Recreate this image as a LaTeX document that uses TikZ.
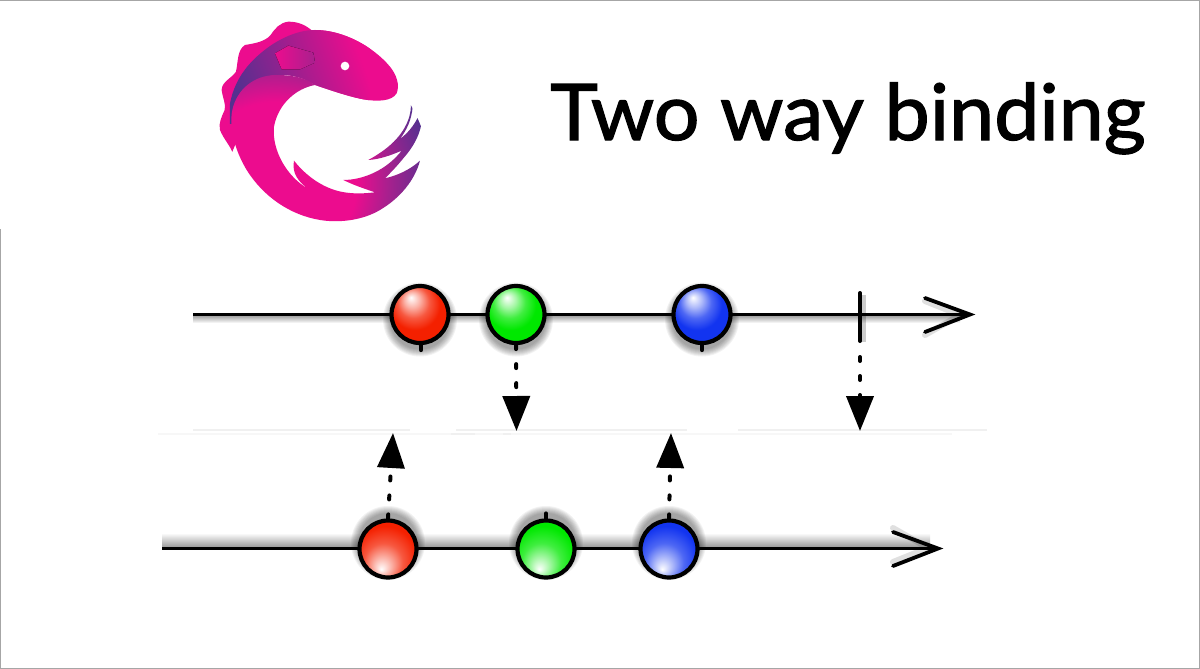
\documentclass[tikz,border=0pt]{standalone}
\usepackage{fontspec}
\setmainfont{Lato}[FakeStretch=1.035,FakeBold=1.6]
\usetikzlibrary{arrows.meta}
\definecolor{pk}{HTML}{EC0C8E}
\definecolor{pm}{HTML}{A8208E}
\definecolor{pu}{HTML}{55308F}
\definecolor{hl}{HTML}{FFFFFF}
\definecolor{rM}{HTML}{F42000}\colorlet{rD}{red!60!black}
\definecolor{gM}{HTML}{00E800}\colorlet{gD}{gM!60!black}
\definecolor{bM}{HTML}{1234F0}\colorlet{bD}{bM!60!black}
\pgfdeclareradialshading{bodyshade}{\pgfpoint{0bp}{0bp}}{color(0bp)=(pk);color(13bp)=(pk);color(18bp)=(pm);color(25bp)=(pu);color(50bp)=(pu)}
\newcommand{\mkballT}[3]{%
\pgfdeclareradialshading{#1}{\pgfpoint{-8bp}{15bp}}{color(0bp)=(hl);color(7bp)=(#2!35!white);color(14bp)=(#2!75!white);color(22bp)=(#2);color(29bp)=(#2);color(38bp)=(#3);color(50bp)=(#3)}}
\newcommand{\mkballB}[3]{%
\pgfdeclareradialshading{#1}{\pgfpoint{-6bp}{-18bp}}{color(0bp)=(hl);color(8bp)=(#2!35!white);color(17bp)=(#2!75!white);color(28bp)=(#2);color(37bp)=(#2);color(46bp)=(#3);color(50bp)=(#3)}}
\mkballT{rT}{rM}{rD}\mkballT{gT}{gM}{gD}\mkballT{bT}{bM}{bD}
\mkballB{rB}{rM}{rD}\mkballB{gB}{gM}{gD}\mkballB{bB}{bM}{bD}
\tikzset{
  x=1pt,y=-1pt,
  tl/.style={line width=3.8pt,black},
  ball/.style={circle,minimum size=57pt,inner sep=0pt,line width=4.2pt,draw=black},
  dotarrow/.style={line width=4pt,line cap=round,dash pattern=on 4pt off 15pt,-{Triangle[length=35pt,width=27pt]}},
  tick/.style={line width=4pt,line cap=round},
  faint/.style={line width=1.6pt,black!6},
  fainter/.style={line width=1.6pt,black!3},
  edge/.style={line width=2pt,black!35},
  barbshadow/.style={line width=6pt,black,opacity=.12,line cap=round},
}
\newcommand{\ballshadow}[3]{\foreach \r in {30,31,32,33,34,35,36,37}{\fill[black,opacity=.05] (#1,#2+#3) circle (\r);}}
\begin{document}
\begin{tikzpicture}
\useasboundingbox (0,0) rectangle (1200,669);
\fill[white] (0,0) rectangle (1200,669);
\draw[edge] (0,669) -- (1200,669) -- (1200,0) -- (0,0);
\draw[edge] (0,229) -- (0,669);
% logo
\begin{scope}[shift={(200,10)},x=0.3333pt,y=-0.3333pt]
\fill[pk] (345,70) .. controls (320,45) and (295,35) .. (265,35) .. controls (240,38) and (225,55) .. (212,75)
 .. controls (195,95) and (165,100) .. (135,105) .. controls (112,120) and (115,150) .. (108,185)
 .. controls (95,205) and (65,215) .. (65,240) .. controls (68,265) and (78,280) .. (74,300)
 .. controls (65,320) and (55,340) .. (60,360) .. controls (70,385) and (85,400) .. (97,425) -- (150,300) -- cycle;
\begin{scope}
\clip (97,425) .. controls (70,310) and (90,220) .. (160,150) .. controls (220,90) and (290,60) .. (345,60)
 .. controls (430,60) and (520,110) .. (570,170) .. controls (590,195) and (600,225) .. (590,250)
 .. controls (575,275) and (530,275) .. (490,268) .. controls (440,258) and (390,240) .. (345,225)
 .. controls (300,195) and (240,185) .. (180,205) .. controls (120,230) and (85,320) .. cycle;
\fill[pk] (60,30) rectangle (620,440);
\shade[left color=pu,middle color=pm,right color=pk,shading angle=110] (90,60) rectangle (510,340);
\end{scope}
\fill[left color=pk,right color=pm] (225,130) -- (265,107) -- (340,128) -- (345,158) -- (300,178) -- (245,178) -- cycle;
\fill[white] (435,168) circle (13);
\begin{scope}
\clip (345,225) .. controls (290,235) and (235,280) .. (222,350) .. controls (215,420) and (260,500) .. (325,537)
 .. controls (295,515) and (275,490) .. (282,452) .. controls (320,500) and (375,540) .. (440,548) .. controls (470,552) and (500,550) .. (525,547)
 .. controls (490,535) and (460,525) .. (430,510) .. controls (490,510) and (560,480) .. (605,422) .. controls (575,435) and (540,448) .. (505,450)
 .. controls (560,420) and (610,380) .. (628,320) .. controls (640,280) and (630,225) .. (605,190)
 .. controls (630,210) and (640,250) .. (638,290) .. controls (635,330) and (620,360) .. (600,387) .. controls (630,365) and (650,335) .. (665,298)
 .. controls (672,350) and (650,400) .. (610,445) .. controls (590,470) and (570,490) .. (555,505) .. controls (590,497) and (630,480) .. (660,452)
 .. controls (645,510) and (600,565) .. (540,600) .. controls (490,630) and (420,640) .. (360,630)
 .. controls (270,615) and (190,560) .. (140,480) .. controls (110,430) and (85,360) .. (97,300)
 .. controls (110,240) and (160,195) .. (230,195) .. controls (280,195) and (320,205) .. (345,225) -- cycle;
\shade[shading=bodyshade] (225,520) circle (470);
\end{scope}
\end{scope}
% title
\node[anchor=base west,inner sep=0pt,font=\fontsize{78}{78}\selectfont,black] (title) at (550,140) {Two way binding};
% faint rules
\draw[faint] (193,430) -- (410,430);
\draw[faint] (456,430) -- (687,430);
\draw[faint] (738,430) -- (987,430);
\draw[fainter] (158,434) -- (952,434);
\draw[faint] (451,434) -- (475,434);
\draw[faint] (503,434) -- (511,434);
% shadows
\shade[top color=black!40,bottom color=white] (193,315) rectangle (960,323);
\shade[top color=white,bottom color=black!45] (162,533) rectangle (930,549);
\draw[barbshadow] (925,301) -- (960,315) -- (925,335);
\draw[barbshadow] (893,528) -- (928,548) -- (893,562);
\ballshadow{420}{314.5}{5}\ballshadow{516}{314.5}{5}\ballshadow{702}{314.5}{5}
\ballshadow{388}{549}{-6}\ballshadow{546}{549}{-6}\ballshadow{669}{549}{-6}
% timelines
\coordinate (s1) at (193,314.5);\coordinate (e1) at (970,314.5);
\coordinate (s2) at (162,548.5);\coordinate (e2) at (938,548.5);
\draw[tl] (s1) -- (e1);
\draw[tl,line cap=round,line join=miter] (925,298) -- (e1) -- (925,332);
\draw[tl] (s2) -- (e2);
\draw[tl,line cap=round,line join=miter] (893,532) -- (e2) -- (893,566);
% balls
\node[ball,shading=rT] (r1) at (420,314.5) {};
\node[ball,shading=gT] (g1) at (516,314.5) {};
\node[ball,shading=bT] (b1) at (702,314.5) {};
\node[ball,shading=rB] (r2) at (388,549) {};
\node[ball,shading=gB] (g2) at (546,549) {};
\node[ball,shading=bB] (b2) at (669,549) {};
% ticks
\draw[tick] (r1.south) ++(1,0) -- ++(0,5);
\draw[tick] (b1.south) -- ++(0,5);
\draw[tick] (g2.north) -- ++(0,-5);
% arrows
\coordinate (t1) at (516.5,431);\coordinate (t2) at (860,431);
\coordinate (t3) at (393,433);\coordinate (t4) at (671,433);
\draw[dotarrow] (g1.south) -- (t1);
\coordinate (m1) at (860,293);\coordinate (m2) at (860,341);\coordinate (m3) at (860,357);
\draw[black,opacity=.2,line width=5pt] (863,295) -- (863,342);
\draw[tick] (m1) -- (m2);
\draw[dotarrow] (m3) -- (t2);
\draw[dotarrow] (r2.north) -- (t3);
\draw[dotarrow] (b2.north) -- (t4);
\end{tikzpicture}
\end{document}
